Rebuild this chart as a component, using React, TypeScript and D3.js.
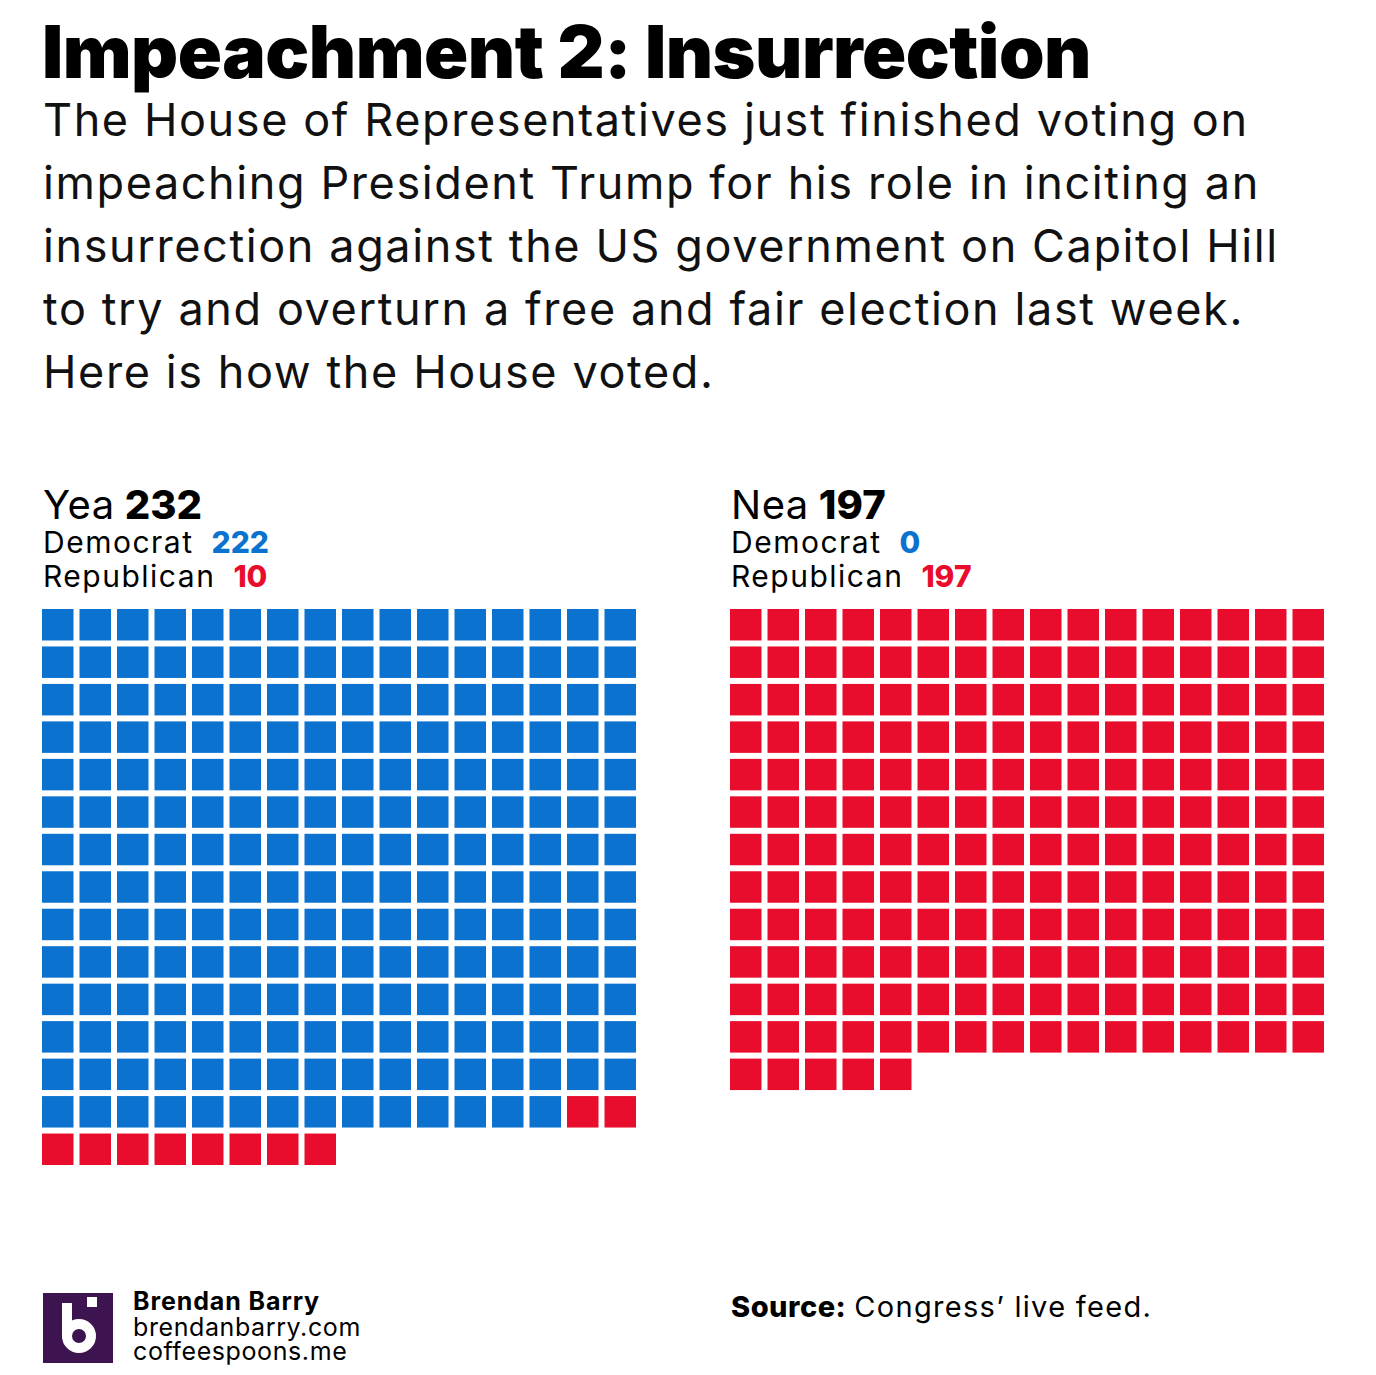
import React from "react";
import * as d3 from "d3";

const WIDTH = 1376;
const HEIGHT = 1375;

// vote counts by party
const parties = ["Democrat", "Republican"];
const yeaVotes = [222, 10];
const neaVotes = [0, 197];

const partyColor = { Democrat: "#0b72cf", Republican: "#e80d2c" };

const titleText = "Impeachment 2: Insurrection";
const subtitleLines = [
  "The House of Representatives just finished voting on",
  "impeaching President Trump for his role in inciting an",
  "insurrection against the US government on Capitol Hill",
  "to try and overturn a free and fair election last week.",
  "Here is how the House voted.",
];

const COLS = 16;
const ROWS = 15;
const FONT = "Inter, 'Noto Sans', sans-serif";

const buildCells = (counts) => {
  const cells = [];
  parties.forEach((p, i) => {
    for (let k = 0; k < counts[i]; k++) cells.push({ party: p, idx: cells.length });
  });
  return cells;
};

const Waffle = ({ x0, counts }) => {
  const cols = d3.range(COLS);
  const rows = d3.range(ROWS);
  const xScale = d3.scaleBand().domain(cols).range([x0, x0 + 594]).paddingInner(0.16);
  const yScale = d3.scaleBand().domain(rows).range([609, 609 + 556]).paddingInner(0.16);
  const cells = buildCells(counts);
  return (
    <g>
      {cells.map((c) => (
        <rect
          key={c.idx}
          x={xScale(c.idx % COLS)}
          y={yScale(Math.floor(c.idx / COLS))}
          width={xScale.bandwidth()}
          height={yScale.bandwidth()}
          fill={partyColor[c.party]}
        />
      ))}
    </g>
  );
};

const Legend = ({ x, label, counts }) => {
  const total = d3.sum(counts);
  return (
    <g fontFamily={FONT}>
      <text x={x} y={519} fontSize={40} fill="#000">
        <tspan fontWeight={400} letterSpacing={0.5}>{label}</tspan>
        <tspan dx={10} fontWeight={800}>{total}</tspan>
      </text>
      {parties.map((p, i) => (
        <text key={p} x={x} y={553 + i * 34} fontSize={30} fill="#000">
          <tspan fontWeight={400} letterSpacing={1.5}>{p}</tspan>
          <tspan dx={18} fontWeight={800} fill={partyColor[p]}>{counts[i]}</tspan>
        </text>
      ))}
    </g>
  );
};

export default function App() {
  return (
    <svg
      width={WIDTH}
      height={HEIGHT}
      style={{ position: "absolute", left: 0, top: 0, background: "#fff" }}
    >
      <rect width={WIDTH} height={HEIGHT} fill="#fff" />
      <text x={42} y={78} fontFamily={FONT} fontWeight={900} fontSize={73} letterSpacing={-0.5} fill="#000">
        {titleText}
      </text>
      {subtitleLines.map((line, i) => (
        <text
          key={i}
          x={43}
          y={136 + i * 63}
          fontFamily={FONT}
          fontWeight={400}
          fontSize={45}
          letterSpacing={1.6}
          fill="#111"
        >
          {line}
        </text>
      ))}

      <Legend x={43} label="Yea" counts={yeaVotes} />
      <Legend x={731} label="Nea" counts={neaVotes} />
      <Waffle x0={42} counts={yeaVotes} />
      <Waffle x0={730} counts={neaVotes} />

      {/* footer logo */}
      <g>
        <rect x={43} y={1293} width={70} height={70} fill="#3d1350" />
        <rect x={62} y={1303} width={10} height={35} fill="#fff" />
        <circle cx={79} cy={1336} r={12} fill="none" stroke="#fff" strokeWidth={10} />
        <rect x={87} y={1297} width={10} height={10} fill="#fff" />
      </g>
      <g fontFamily={FONT} fontSize={25} fill="#000">
        <text x={133} y={1310} fontWeight={700} letterSpacing={0.9}>Brendan Barry</text>
        <text x={133} y={1336} letterSpacing={0.6}>brendanbarry.com</text>
        <text x={133} y={1360} letterSpacing={0.6}>coffeespoons.me</text>
      </g>
      <text x={731} y={1317} fontFamily={FONT} fontSize={29} fill="#000">
        <tspan fontWeight={800} letterSpacing={0.5}>Source:</tspan>
        <tspan dx={8} letterSpacing={1.3}>Congress’ live feed.</tspan>
      </text>
    </svg>
  );
}
